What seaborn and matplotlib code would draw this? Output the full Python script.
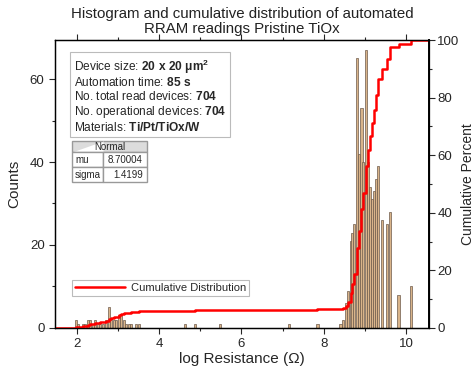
"""
Histogram + cumulative distribution of RRAM pristine readings (TiOx).
"""

import matplotlib
matplotlib.use("Agg")
import matplotlib.pyplot as plt
import numpy as np
import seaborn as sns
from matplotlib.table import Table
from matplotlib.ticker import MultipleLocator

# ---- data ----
# bin centres (log resistance) and counts
log_r = [1.99, 2.04, 2.14, 2.20, 2.27, 2.33, 2.39, 2.45, 2.51, 2.57, 2.63,
         2.72, 2.78, 2.84, 2.90, 2.96, 3.02, 3.08, 3.14, 3.20, 3.26, 3.32,
         3.45, 3.51, 4.63, 4.88, 5.49, 7.15, 7.85,
         8.41, 8.46, 8.54, 8.60, 8.66, 8.70, 8.74, 8.80, 8.85, 8.92, 8.96,
         9.02, 9.08, 9.13, 9.17, 9.23, 9.27, 9.32, 9.42, 9.53, 9.62,
         9.82, 10.12]
counts = [2, 1, 1, 1, 2, 2, 1, 2, 1, 1, 1,
          2, 5, 2, 2, 2, 3, 3, 2, 1, 1, 1,
          1, 1, 1, 1, 1, 1, 1,
          1, 2, 6, 9, 21, 23, 25, 65, 42, 53, 40,
          67, 40, 34, 31, 33, 36, 39, 26, 25, 28,
          8, 10]

info_lines = [
    ("Device size: ", r"20\ x\ 20\ \mu m^2"),
    ("Automation time: ", r"85\ s"),
    ("No. total read devices: ", r"704"),
    ("No. operational devices: ", r"704"),
    ("Materials: ", r"Ti/Pt/TiOx/W"),
]
fit_rows = [["mu", "8.70004"], ["sigma", "1.4199"]]

XLIM = (1.47, 10.56)

sns.set_theme(style="ticks")
plt.rcParams["font.family"] = ["Liberation Sans", "DejaVu Sans"]
plt.rcParams["mathtext.fontset"] = "custom"
plt.rcParams["mathtext.rm"] = "Liberation Sans"
plt.rcParams["mathtext.bf"] = "Liberation Sans:bold"
plt.rcParams["mathtext.it"] = "Liberation Sans:bold"

fig = plt.figure(figsize=(4.74, 3.89), dpi=100)
ax = fig.add_axes([0.116, 0.157, 0.789, 0.740])

# histogram bars
sns.barplot(x=log_r, y=counts, native_scale=True, width=1.25, errorbar=None,
            color="#D9B48A", saturation=1, edgecolor="#6E5A4A", linewidth=0.5,
            ax=ax)

# cumulative percent
cum = np.cumsum(counts) / np.sum(counts) * 100
cx = [XLIM[0]] + list(log_r) + [XLIM[1]]
cy = [0] + list(cum) + [100]

ax2 = ax.twinx()
sns.lineplot(x=cx, y=cy, sort=False, drawstyle="steps-post", color="#FF0000",
             linewidth=1.8, label="Cumulative Distribution", ax=ax2)

ax.set_xlim(*XLIM)
ax.set_ylim(0, 69.4)
ax2.set_ylim(0, 100)

ax.xaxis.set_major_locator(MultipleLocator(2))
ax.xaxis.set_minor_locator(MultipleLocator(1))
ax.yaxis.set_major_locator(MultipleLocator(20))
ax.yaxis.set_minor_locator(MultipleLocator(10))
ax2.yaxis.set_major_locator(MultipleLocator(20))
ax2.yaxis.set_minor_locator(MultipleLocator(10))

ax.tick_params(axis="x", which="major", direction="out", length=4, width=0.8,
               labelsize=9.5, top=True, labeltop=False, pad=3)
ax.tick_params(axis="x", which="minor", direction="out", length=2.5, width=0.8,
               top=True)
ax.tick_params(axis="y", which="major", direction="out", length=4, width=0.8,
               labelsize=9.5)
ax.tick_params(axis="y", which="minor", direction="out", length=2.5, width=0.8)
ax2.tick_params(axis="y", which="major", direction="out", length=4, width=0.8,
                labelsize=9.5, pad=2)
ax2.tick_params(axis="y", which="minor", direction="out", length=2.5, width=0.8)

for a in (ax, ax2):
    for s in a.spines.values():
        s.set_visible(True)
        s.set_color("black")
        s.set_linewidth(0.9)
ax2.spines["right"].set_linewidth(1.4)

ax.set_xlabel("log Resistance (Ω)", fontsize=11, labelpad=2)
ax.set_ylabel("Counts", fontsize=11, labelpad=6)
ax2.set_ylabel("Cumulative Percent", fontsize=10, labelpad=1)
ax.set_title("Histogram and cumulative distribution of automated\n"
             "RRAM readings Pristine TiOx", fontsize=10.8, color="#222222",
             pad=5, linespacing=1.1)

# legend
leg = ax2.legend(loc="lower left", bbox_to_anchor=(0.03, 0.09), fontsize=8,
                 frameon=True, fancybox=False, handlelength=4.5,
                 borderpad=0.3, handletextpad=0.5)
leg.get_frame().set_edgecolor("#aaaaaa")
leg.get_frame().set_linewidth(0.8)

# info text box
info = "\n".join(f"{a}${{\\bf{{{b}}}}}$" for a, b in info_lines)
ax2.text(0.05, 0.94, info, transform=ax.transAxes, fontsize=8.6, va="top",
         ha="left", linespacing=1.08,
         bbox=dict(boxstyle="square,pad=0.3", facecolor="white",
                   edgecolor="#bbbbbb", linewidth=0.8))

# fit table
tb = Table(ax2, bbox=[0.045, 0.507, 0.201, 0.142])
w0, w1 = 31, 44
tb.add_cell(0, 0, w0, 11, text="", facecolor="#dcdcdc", edgecolor="#999999")
tb.add_cell(0, 1, w1, 11, text="", facecolor="#dcdcdc", edgecolor="#999999")
tb[0, 0].visible_edges = "BTL"
tb[0, 1].visible_edges = "BTR"
for i, (name, val) in enumerate(fit_rows, start=1):
    tb.add_cell(i, 0, w0, 15, text=name, loc="left", facecolor="white",
                edgecolor="#999999")
    tb.add_cell(i, 1, w1, 15, text=val, loc="right", facecolor="white",
                edgecolor="#999999")
tb.auto_set_font_size(False)
tb.set_fontsize(7)
ax2.add_table(tb)
ax2.text(0.1455, 0.628, "Normal", transform=ax.transAxes, fontsize=7,
         ha="center", va="center")

fig.savefig("out.png", dpi=100)
